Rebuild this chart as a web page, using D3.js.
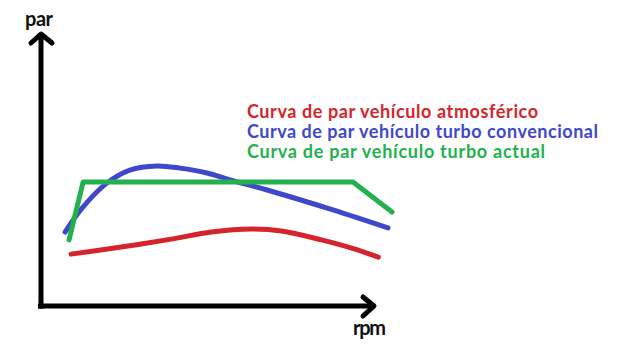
<!DOCTYPE html>
<html>
<head>
<meta charset="utf-8">
<script src="https://cdn.jsdelivr.net/npm/d3@7"></script>
<style>
  body { margin: 0; background: #fff; }
  svg { display: block; }
  text { font-family: Lato, "Open Sans", sans-serif; font-weight: bold; }
</style>
</head>
<body>
<svg width="617" height="353"></svg>
<script>
// rpm / par in arbitrary units (0..100 along each axis)
const atmoRpm = [9, 24, 39, 51, 63, 72, 84, 93, 101];
const atmoPar = [19.0, 21.6, 24.5, 27.1, 28.2, 27.5, 24.2, 21.2, 17.9];

const turboConvRpm = [7.2, 12.6, 19.8, 26.6, 34.7, 41.6, 49.7, 56.6, 67.7, 87.4, 103.9];
const turboConvPar = [27.1, 36.3, 45.1, 49.8, 51.3, 50.5, 48.7, 46.2, 42.5, 35.2, 28.6];

const turboActRpm = [8.4, 12.6, 93.4, 105.1];
const turboActPar = [24.2, 45.4, 45.4, 34.4];

const legendLabels = [
    'Curva de par vehículo atmosférico',
    'Curva de par vehículo turbo convencional',
    'Curva de par vehículo turbo actual'
];
const colors = ['#d6242c', '#3f48cc', '#22b14c'];

const svg = d3.select('svg');

const xScale = d3.scaleLinear().domain([0, 100]).range([41, 375]);
const yScale = d3.scaleLinear().domain([0, 100]).range([306, 33]);

const series = [
    { rpm: atmoRpm, par: atmoPar, curve: d3.curveCatmullRom },
    { rpm: turboConvRpm, par: turboConvPar, curve: d3.curveCatmullRom },
    { rpm: turboActRpm, par: turboActPar, curve: d3.curveLinear }
];

// axes with arrow heads
const axisG = svg.append('g')
    .attr('stroke', '#000')
    .attr('stroke-width', 5)
    .attr('fill', 'none');

axisG.append('path')
    .attr('d', `M${xScale(0)},${yScale(-1)} L${xScale(0)},${yScale(100)}`);
axisG.append('path')
    .attr('stroke-linejoin', 'round')
    .attr('stroke-linecap', 'round')
    .attr('d', `M${xScale(0) - 10},${yScale(100) + 10} L${xScale(0)},${yScale(100) + 1} L${xScale(0) + 11},${yScale(100) + 10}`);
axisG.append('path')
    .attr('d', `M${xScale(0) - 3},${yScale(0)} L${xScale(100) - 2},${yScale(0)}`);
axisG.append('path')
    .attr('stroke-linejoin', 'round')
    .attr('stroke-linecap', 'round')
    .attr('d', `M${xScale(100) - 12},${yScale(0) - 9} L${xScale(100) - 1},${yScale(0)} L${xScale(100) - 12},${yScale(0) + 10}`);

svg.append('text').text('par')
    .attr('x', 25).attr('y', 26)
    .attr('font-size', 20)
    .attr('textLength', 28)
    .attr('fill', '#111');

svg.append('text').text('rpm')
    .attr('x', 353).attr('y', 335)
    .attr('font-size', 20)
    .attr('textLength', 33)
    .attr('fill', '#111');

// curves
series.forEach((s, i) => {
    const line = d3.line()
        .x((d, j) => xScale(s.rpm[j]))
        .y(d => yScale(d))
        .curve(s.curve);
    svg.append('path')
        .datum(s.par)
        .attr('d', line)
        .attr('fill', 'none')
        .attr('stroke', colors[i])
        .attr('stroke-width', 5)
        .attr('stroke-linecap', 'round')
        .attr('stroke-linejoin', 'round');
});

// legend
const legendWidths = [291, 351, 298];
svg.selectAll('.legend')
    .data(legendLabels)
    .enter()
        .append('text')
        .classed('legend', true)
        .attr('x', 247)
        .attr('y', (d, i) => 118 + i * 20)
        .attr('font-size', 18)
        .attr('textLength', (d, i) => legendWidths[i])
        .attr('fill', (d, i) => colors[i])
        .text(d => d);
</script>
</body>
</html>
